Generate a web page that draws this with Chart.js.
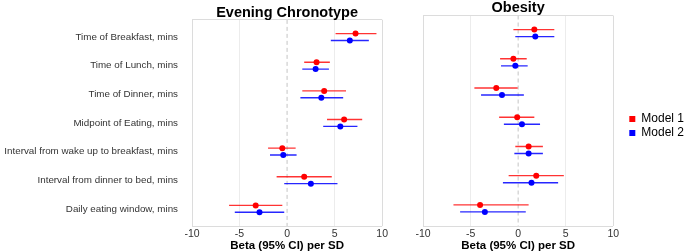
<!DOCTYPE html>
<html>
<head>
<meta charset="utf-8">
<script src="https://cdn.jsdelivr.net/npm/chart.js@4.4.1/dist/chart.umd.min.js"></script>
<style>
  html, body { margin: 0; padding: 0; background: #fff; }
  #wrap { position: relative; width: 685px; height: 252px; overflow: hidden; }
  .panel { position: absolute; top: 0; height: 252px; }
  #leftPanel { left: 0; width: 390px; }
  #rightPanel { left: 395px; width: 299px; }
</style>
</head>
<body>
<div id="wrap">
  <div class="panel" id="leftPanel"><canvas id="chronoChart"></canvas></div>
  <div class="panel" id="rightPanel"><canvas id="obesityChart"></canvas></div>
</div>
<script>
/* Data */

const measures = [
  "Time of Breakfast, mins",
  "Time of Lunch, mins",
  "Time of Dinner, mins",
  "Midpoint of Eating, mins",
  "Interval from wake up to breakfast, mins",
  "Interval from dinner to bed, mins",
  "Daily eating window, mins"
];

const xTicks = [-10, -5, 0, 5, 10];

// Evening Chronotype
const chronoModel1 = [7.2, 3.1, 3.9, 6.0, -0.5, 1.8, -3.3];
const chronoModel1Low = [5.1, 1.8, 1.6, 4.2, -2.0, -1.1, -6.1];
const chronoModel1High = [9.4, 4.5, 6.2, 7.9, 0.9, 4.7, -0.5];
const chronoModel2 = [6.6, 3.0, 3.6, 5.6, -0.4, 2.5, -2.9];
const chronoModel2Low = [4.6, 1.6, 1.4, 3.8, -1.8, -0.3, -5.5];
const chronoModel2High = [8.6, 4.4, 5.9, 7.4, 1.0, 5.3, -0.3];

// Obesity
const obesityModel1 = [1.7, -0.5, -2.3, -0.1, 1.1, 1.9, -4.0];
const obesityModel1Low = [-0.5, -1.9, -4.6, -2.0, -0.3, -1.0, -6.8];
const obesityModel1High = [3.8, 0.9, 0.0, 1.7, 2.6, 4.8, 1.1];
const obesityModel2 = [1.8, -0.3, -1.7, 0.4, 1.1, 1.4, -3.5];
const obesityModel2Low = [-0.3, -1.8, -3.9, -1.5, -0.4, -1.6, -6.1];
const obesityModel2High = [3.8, 1.0, 0.6, 2.3, 2.6, 4.2, 0.8];

/* Styling */

const FONT = "'Liberation Sans', Arial, Helvetica, sans-serif";
const RED = "#ff0000";
const BLUE = "#0000ff";
const RED_BAR = "rgba(255, 0, 0, 0.8)";
const BLUE_BAR = "rgba(0, 0, 255, 0.85)";
const Y_MIN = 0.4;
const Y_MAX = 7.6;
const DODGE = 0.12;

function rowOf(i, model) {
  return i + 1 + (model === 1 ? -DODGE : DODGE);
}

function pointData(values, model) {
  return values.map((v, i) => ({ x: v, y: rowOf(i, model) }));
}

function barData(low, high, model) {
  return low.map((lo, i) => ({ x: [lo, high[i]], y: rowOf(i, model) }));
}

function buildDatasets(m1, m1Lo, m1Hi, m2, m2Lo, m2Hi) {
  return [
    {
      label: "Model 1",
      type: "scatter",
      data: pointData(m1, 1),
      backgroundColor: RED,
      borderWidth: 0,
      pointRadius: 3,
      order: 1
    },
    {
      label: "Model 2",
      type: "scatter",
      data: pointData(m2, 2),
      backgroundColor: BLUE,
      borderWidth: 0,
      pointRadius: 3,
      order: 1
    },
    {
      label: "ci1",
      type: "bar",
      indexAxis: "y",
      data: barData(m1Lo, m1Hi, 1),
      backgroundColor: RED_BAR,
      borderWidth: 0,
      grouped: false,
      maxBarThickness: 1.3,
      order: 2
    },
    {
      label: "ci2",
      type: "bar",
      indexAxis: "y",
      data: barData(m2Lo, m2Hi, 2),
      backgroundColor: BLUE_BAR,
      borderWidth: 0,
      grouped: false,
      maxBarThickness: 1.3,
      order: 2
    },
    {
      label: "zero",
      type: "line",
      data: [{ x: 0, y: Y_MIN }, { x: 0, y: Y_MAX }],
      borderColor: "#c4c4c4",
      borderWidth: 1,
      borderDash: [4, 3],
      pointRadius: 0,
      order: 3
    }
  ];
}

function makePanel(canvas, title, datasets, isLeft) {
  return new Chart(canvas, {
    type: "scatter",
    data: { datasets: datasets },
    options: {
      responsive: true,
      maintainAspectRatio: false,
      animation: false,
      layout: {
        padding: isLeft
          ? { left: 0, right: 6, top: 0, bottom: 0 }
          : { left: 28, right: 0, top: 0, bottom: 0 }
      },
      plugins: {
        tooltip: { enabled: false },
        title: {
          display: true,
          text: title,
          fullSize: false,
          color: "#000",
          font: { family: FONT, size: 14.5, weight: "bold", lineHeight: 1 },
          padding: { top: 1, bottom: 0 }
        },
        legend: {
          display: !isLeft,
          position: "right",
          labels: {
            boxWidth: 6,
            boxHeight: 6,
            padding: 2,
            color: "#000",
            font: { family: FONT, size: 12 },
            filter: item => item.text.startsWith("Model")
          }
        }
      },
      scales: {
        x: {
          type: "linear",
          min: -10,
          max: 10,
          offset: false,
          afterBuildTicks: axis => {
            axis.ticks = xTicks.map(v => ({ value: v }));
          },
          afterFit: axis => {
            axis.height = 26;
          },
          ticks: {
            color: "#333",
            font: { family: FONT, size: 10.5 },
            padding: 2,
            maxRotation: 0
          },
          grid: {
            drawTicks: false,
            color: ctx => {
              const v = ctx.tick ? ctx.tick.value : null;
              if (v === 0) return "transparent";
              if (v === -10 || v === 10) return "#dcdcdc";
              return "#ececec";
            }
          },
          border: { display: false },
          title: {
            display: true,
            text: "Beta (95% CI) per SD",
            color: "#000",
            font: { family: FONT, size: 11.5, weight: "bold", lineHeight: 1 },
            padding: { top: 0, bottom: 0 }
          }
        },
        y: {
          type: "linear",
          position: isLeft ? "left" : "right",
          min: Y_MIN,
          max: Y_MAX,
          reverse: true,
          offset: false,
          afterBuildTicks: axis => {
            axis.ticks = [Y_MIN, ...measures.map((_, i) => i + 1), Y_MAX]
              .map(v => ({ value: v }));
          },
          afterFit: axis => {
            axis.width = isLeft ? 192 : 14;
          },
          ticks: {
            display: isLeft,
            autoSkip: false,
            color: "#333",
            font: { family: FONT, size: 9.8 },
            padding: 14,
            callback: value => Number.isInteger(value) ? measures[value - 1] : ""
          },
          grid: {
            offset: false,
            drawTicks: false,
            color: ctx => {
              const v = ctx.tick ? ctx.tick.value : null;
              return (v === Y_MIN || v === Y_MAX) ? "#dcdcdc" : "transparent";
            }
          },
          border: { display: false }
        }
      }
    }
  });
}

/* Panels */

makePanel(
  document.querySelector("#chronoChart"),
  "Evening Chronotype",
  buildDatasets(chronoModel1, chronoModel1Low, chronoModel1High,
                chronoModel2, chronoModel2Low, chronoModel2High),
  true
);

makePanel(
  document.querySelector("#obesityChart"),
  "Obesity",
  buildDatasets(obesityModel1, obesityModel1Low, obesityModel1High,
                obesityModel2, obesityModel2Low, obesityModel2High),
  false
);
</script>
</body>
</html>
